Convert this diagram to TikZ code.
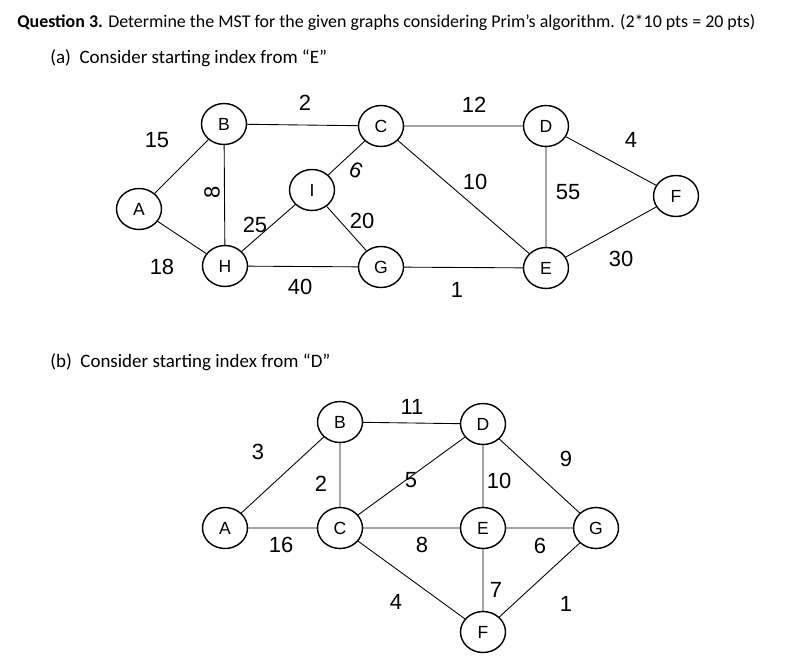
\documentclass[tikz,border=0pt]{standalone}
\usepackage{fontspec}
\setmainfont{Carlito}
\newfontfamily\arial{Liberation Sans}
\usetikzlibrary{shapes.geometric}
\begin{document}
\begin{tikzpicture}[x={(0.02cm,0)},y={(0,-0.02cm)},
 vtx/.style={draw,ellipse,minimum width=0.9cm,minimum height=0.82cm,inner sep=0pt,font=\arial\fontsize{10}{12}\selectfont,line width=0.8pt},
 wlab/.style={font=\arial\fontsize{12.5}{14}\selectfont},
 edge/.style={line width=0.5pt}]
\useasboundingbox (0,0) rectangle (787,662);
\node[anchor=west,font=\fontsize{10.2}{12}\selectfont,inner sep=0pt] (t) at (17,22) {\textbf{Question 3.} Determine the MST for the given graphs considering Prim’s algorithm. (2*10 pts = 20 pts)};
\node[anchor=west,font=\fontsize{10.8}{13}\selectfont,inner sep=0pt] (ta) at (50,58) {(a)\ \ Consider starting index from “E”};
\node[anchor=west,font=\fontsize{10.8}{13}\selectfont,inner sep=0pt] (tb) at (50,362) {(b)\ \ Consider starting index from “D”};
% part a
\node[vtx] (B) at (224,124) {B};
\node[vtx] (C) at (381,126) {C};
\node[vtx] (D) at (546,126) {D};
\node[vtx] (A) at (139,209) {A};
\node[vtx] (I) at (312,190) {I};
\node[vtx] (F) at (676,196) {F};
\node[vtx] (H) at (225,266) {H};
\node[vtx] (G) at (381,267) {G};
\node[vtx] (E) at (546,268) {E};
\draw[edge] (B)--(C) (C)--(D) (D)--(F) (A)--(B) (B)--(H) (I)--(C) (C)--(E) (D)--(E) (H)--(I) (I)--(G) (A)--(H) (H)--(G) (G)--(E) (E)--(F);
\node[wlab] (l1) at (305,103) {2};
\node[wlab] (l2) at (474,105) {12};
\node[wlab] (l3) at (631,140) {4};
\node[wlab] (l4) at (157,140) {15};
\node[wlab,rotate=90] (l5) at (212,192) {8};
\node[wlab,rotate=-25] (l6) at (356,170) {6};
\node[wlab] (l7) at (475,182) {10};
\node[wlab] (l8) at (568,192) {55};
\node[wlab] (l9) at (255,225) {25};
\node[wlab] (l10) at (362,221) {20};
\node[wlab] (l11) at (162,267) {18};
\node[wlab] (l12) at (300,287) {40};
\node[wlab] (l13) at (457,290) {1};
\node[wlab] (l14) at (621,259) {30};
% part b
\node[vtx] (b) at (340,422) {B};
\node[vtx] (d) at (483,424) {D};
\node[vtx] (a) at (225,528) {A};
\node[vtx] (c) at (340,528) {C};
\node[vtx] (e) at (483,528) {E};
\node[vtx] (g) at (596,528) {G};
\node[vtx] (f) at (483,632) {F};
\draw[edge] (b)--(d) (a)--(b) (b)--(c) (c)--(d) (d)--(e) (d)--(g) (a)--(c) (c)--(e) (e)--(g) (c)--(f) (e)--(f) (g)--(f);
\node[wlab] (m1) at (412,407) {11};
\node[wlab] (m2) at (258,452) {3};
\node[wlab] (m3) at (321,484) {2};
\node[wlab] (m4) at (411,480) {5};
\node[wlab] (m5) at (499,481) {10};
\node[wlab] (m6) at (566,459) {9};
\node[wlab] (m7) at (281,545) {16};
\node[wlab] (m8) at (422,545) {8};
\node[wlab] (m9) at (540,546) {6};
\node[wlab] (m10) at (396,602) {4};
\node[wlab] (m11) at (496,590) {7};
\node[wlab] (m12) at (566,604) {1};
\end{tikzpicture}
\end{document}
